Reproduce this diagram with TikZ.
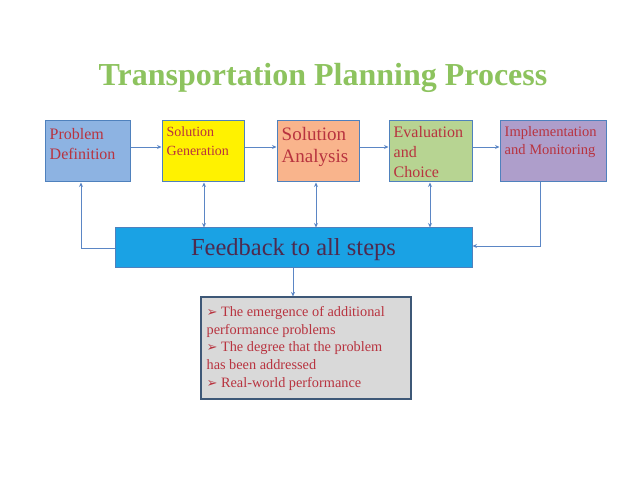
\documentclass[tikz,border=0pt]{standalone}
\usepackage{fontspec}
\setmainfont{Liberation Serif}
\newfontfamily\symfont{DejaVu Sans}
\usetikzlibrary{arrows.meta}

\definecolor{lineblue}{HTML}{5B86C5}
\definecolor{edgeblue}{HTML}{4F81BD}
\definecolor{probfill}{HTML}{8DB3E2}
\definecolor{analfill}{HTML}{F9B48C}
\definecolor{evalfill}{HTML}{B7D492}
\definecolor{implfill}{HTML}{AE9ECB}
\definecolor{feedfill}{HTML}{1AA2E4}
\definecolor{listfill}{HTML}{D9D9D9}
\definecolor{listedge}{HTML}{3E5877}
\definecolor{textred}{HTML}{B8333F}
\definecolor{feedtext}{HTML}{4E2A4E}
\definecolor{titlegreen}{HTML}{8DC35E}

\tikzset{
  stepbox/.style={draw=edgeblue, line width=1pt, inner sep=0pt},
  boxtext/.style={anchor=north west, align=left, text=textred, inner sep=0pt},
  flow/.style={draw=lineblue, line width=0.9pt, -{Stealth[length=4.5pt,width=4pt]}},
  twoway/.style={draw=lineblue, line width=0.9pt, {Stealth[length=4.5pt,width=4pt]}-{Stealth[length=4.5pt,width=4pt]}}
}

\newcommand{\bulletmark}{{\symfont\fontsize{13}{13}\selectfont ➢}}

\begin{document}
\begin{tikzpicture}[x=1pt,y=-1pt]
  \useasboundingbox[fill=white] (0,0) rectangle (638,478);

  % title
  \node[text=titlegreen, font=\bfseries\fontsize{32}{36}\selectfont] (title) at (323,78) {Transportation Planning Process};

  % the five steps
  \node[stepbox, fill=probfill, minimum width=85, minimum height=61] (prob) at (87.5,151.5) {};
  \node[stepbox, fill=yellow, minimum width=82, minimum height=61] (gen) at (203,151.5) {};
  \node[stepbox, fill=analfill, minimum width=82, minimum height=61] (anal) at (318,151.5) {};
  \node[stepbox, fill=evalfill, minimum width=83, minimum height=61] (eval) at (430.5,151.5) {};
  \node[stepbox, fill=implfill, minimum width=106, minimum height=61] (impl) at (553,151.5) {};

  \node[boxtext, font=\fontsize{16}{20}\selectfont] (probtxt) at ([shift={(5,8)}]prob.north west) {Problem\\Definition};
  \node[boxtext, font=\fontsize{14}{19}\selectfont] (gentxt) at ([shift={(5,6)}]gen.north west) {Solution\\Generation};
  \node[boxtext, font=\fontsize{19}{22}\selectfont] (analtxt) at ([shift={(5,7)}]anal.north west) {Solution\\Analysis};
  \node[boxtext, font=\fontsize{16}{20}\selectfont] (evaltxt) at ([shift={(5,6)}]eval.north west) {Evaluation\\and\\Choice};
  \node[boxtext, font=\fontsize{14.5}{18}\selectfont] (impltxt) at ([shift={(5,6)}]impl.north west) {Implementation\\and Monitoring};

  % feedback bar
  \node[stepbox, draw=edgeblue, fill=feedfill, minimum width=357, minimum height=40] (feed) at (293.5,248) {};
  \node[text=feedtext, font=\fontsize{24.5}{28}\selectfont] (feedtxt) at ([yshift=-2]feed.center) {Feedback to all steps};

  % list of outcomes
  \node[draw=listedge, line width=1.2pt, fill=listfill, minimum width=210, minimum height=102, inner sep=0pt] (list) at (306,348) {};
  \node[boxtext, font=\fontsize{14.3}{17.6}\selectfont] (listtxt) at ([shift={(6,10)}]list.north west)
    {\bulletmark\ The emergence of additional\\performance problems\\\bulletmark\ The degree that the problem\\has been addressed\\\bulletmark\ Real-world performance};

  % forward flow
  \draw[flow] (prob.east |- 0,147) -- (gen.west |- 0,147);
  \draw[flow] (gen.east |- 0,147) -- (anal.west |- 0,147);
  \draw[flow] (anal.east |- 0,147) -- (eval.west |- 0,147);
  \draw[flow] (eval.east |- 0,147) -- (impl.west |- 0,147);

  % feedback loops
  \draw[flow] (feed.west |- 0,248) -| (prob.south -| 81,0);
  \draw[twoway] (gen.south -| 204,0) -- (feed.north -| 204,0);
  \draw[twoway] (anal.south -| 316,0) -- (feed.north -| 316,0);
  \draw[twoway] (eval.south -| 430,0) -- (feed.north -| 430,0);
  \draw[flow] (impl.south -| 540,0) |- (feed.east |- 0,246);
  \draw[flow] (feed.south -| 293,0) -- (list.north -| 293,0);
\end{tikzpicture}
\end{document}
